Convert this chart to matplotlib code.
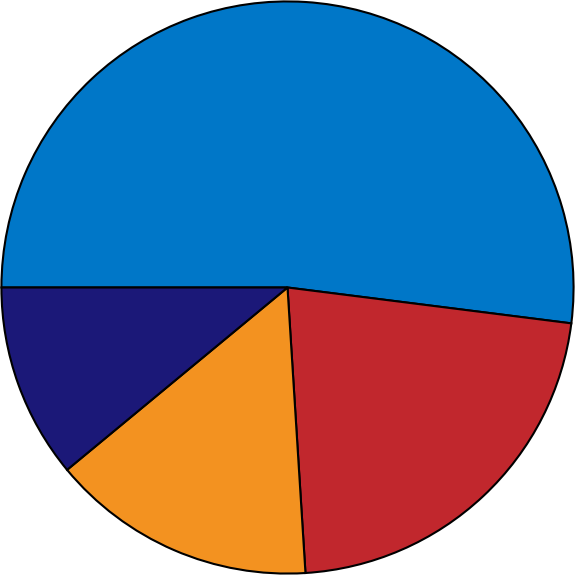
import matplotlib
matplotlib.use('Agg')
import matplotlib.pyplot as plt

# Fatias do gráfico de pizza
labels = ['Azul', 'Vermelho', 'Laranja', 'Marinho']
values = [52, 22, 15, 11]
colors = ['#0077C8', '#C1272D', '#F39220', '#1B1878']

fig = plt.figure(figsize=(5.75, 5.75), dpi=100)
ax = fig.add_axes([0, 0, 1, 1])

ax.pie(values, colors=colors, startangle=180, counterclock=False,
       radius=1.0, center=(0, 0),
       wedgeprops={'edgecolor': 'black', 'linewidth': 1.5})

ax.set_xlim(-1.005, 1.005)
ax.set_ylim(-1.005, 1.005)
ax.set_aspect('equal')
ax.axis('off')

fig.savefig('out.png', dpi=100, facecolor='white')
